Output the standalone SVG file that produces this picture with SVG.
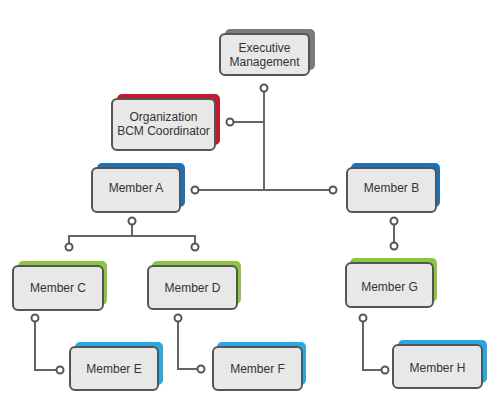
<svg xmlns="http://www.w3.org/2000/svg" width="500" height="416" viewBox="0 0 500 416">
<style>
.box{fill:#e8e8e8;stroke:#555;stroke-width:2}
.sh-gray{fill:#7a7a7a}
.sh-red{fill:#c41a30}
.sh-blue{fill:#1b72b8}
.sh-green{fill:#8cc63f}
.sh-lblue{fill:#29a9e1}
.t{font-family:"Liberation Sans",Arial,sans-serif;font-size:12px;fill:#333;text-anchor:middle}
.ln{fill:none;stroke:#666;stroke-width:2}
.dot{fill:#fff;stroke:#555;stroke-width:2}
</style>
<rect width="500" height="416" fill="#fff"/>
<g id="connectors">
<path class="ln" d="M264 88V190M230 122H264M195 190H333"/>
<path class="ln" d="M132 221V236M69 247V236H195V247"/>
<path class="ln" d="M394 221V246"/>
<path class="ln" d="M35 318V370H60"/>
<path class="ln" d="M178 318V369H201"/>
<path class="ln" d="M363 318V370H385"/>
<circle class="dot" cx="264" cy="88" r="3.5"/>
<circle class="dot" cx="230" cy="122" r="3.5"/>
<circle class="dot" cx="195" cy="190" r="3.5"/>
<circle class="dot" cx="333" cy="190" r="3.5"/>
<circle class="dot" cx="132" cy="221" r="3.5"/>
<circle class="dot" cx="69" cy="247" r="3.5"/>
<circle class="dot" cx="195" cy="247" r="3.5"/>
<circle class="dot" cx="394" cy="221" r="3.5"/>
<circle class="dot" cx="394" cy="246" r="3.5"/>
<circle class="dot" cx="35" cy="318" r="3.5"/>
<circle class="dot" cx="60" cy="370" r="3.5"/>
<circle class="dot" cx="178" cy="318" r="3.5"/>
<circle class="dot" cx="201" cy="369" r="3.5"/>
<circle class="dot" cx="363" cy="318" r="3.5"/>
<circle class="dot" cx="385" cy="370" r="3.5"/>
</g>
<g id="executive">
<rect class="sh-gray" x="225" y="29" width="90" height="41" rx="5"/>
<rect class="box" x="220" y="34" width="89" height="41" rx="5"/>
<text class="t" x="264.5" y="52">Executive</text>
<text class="t" x="264.5" y="65.5">Management</text>
</g>
<g id="org-bcm">
<rect class="sh-red" x="117" y="94" width="103" height="51" rx="5"/>
<rect class="box" x="112" y="99" width="103" height="51" rx="5"/>
<text class="t" x="163.5" y="121">Organization</text>
<text class="t" x="163.5" y="135">BCM Coordinator</text>
</g>
<g id="member-a">
<rect class="sh-blue" x="97" y="163" width="88" height="44" rx="5"/>
<rect class="box" x="92" y="168" width="88" height="44" rx="5"/>
<text class="t" x="136" y="192">Member A</text>
</g>
<g id="member-b">
<rect class="sh-blue" x="351" y="163" width="89" height="44" rx="5"/>
<rect class="box" x="347" y="168" width="89" height="44" rx="5"/>
<text class="t" x="391.5" y="192">Member B</text>
</g>
<g id="member-c">
<rect class="sh-green" x="18" y="261" width="89" height="44" rx="5"/>
<rect class="box" x="13" y="266" width="90" height="44" rx="5"/>
<text class="t" x="58" y="292">Member C</text>
</g>
<g id="member-d">
<rect class="sh-green" x="152" y="261" width="89" height="43" rx="5"/>
<rect class="box" x="148" y="266" width="89" height="43" rx="5"/>
<text class="t" x="192.5" y="292">Member D</text>
</g>
<g id="member-g">
<rect class="sh-green" x="350" y="258" width="87" height="44" rx="5"/>
<rect class="box" x="346" y="263" width="87" height="44" rx="5"/>
<text class="t" x="389.5" y="291">Member G</text>
</g>
<g id="member-e">
<rect class="sh-lblue" x="75" y="342" width="88" height="43" rx="5"/>
<rect class="box" x="70" y="347" width="88" height="43" rx="5"/>
<text class="t" x="114" y="373">Member E</text>
</g>
<g id="member-f">
<rect class="sh-lblue" x="217" y="342" width="89" height="43" rx="5"/>
<rect class="box" x="213" y="347" width="89" height="43" rx="5"/>
<text class="t" x="257.5" y="373">Member F</text>
</g>
<g id="member-h">
<rect class="sh-lblue" x="398" y="340" width="89" height="43" rx="5"/>
<rect class="box" x="393" y="345" width="89" height="43" rx="5"/>
<text class="t" x="437.5" y="372">Member H</text>
</g>
</svg>
